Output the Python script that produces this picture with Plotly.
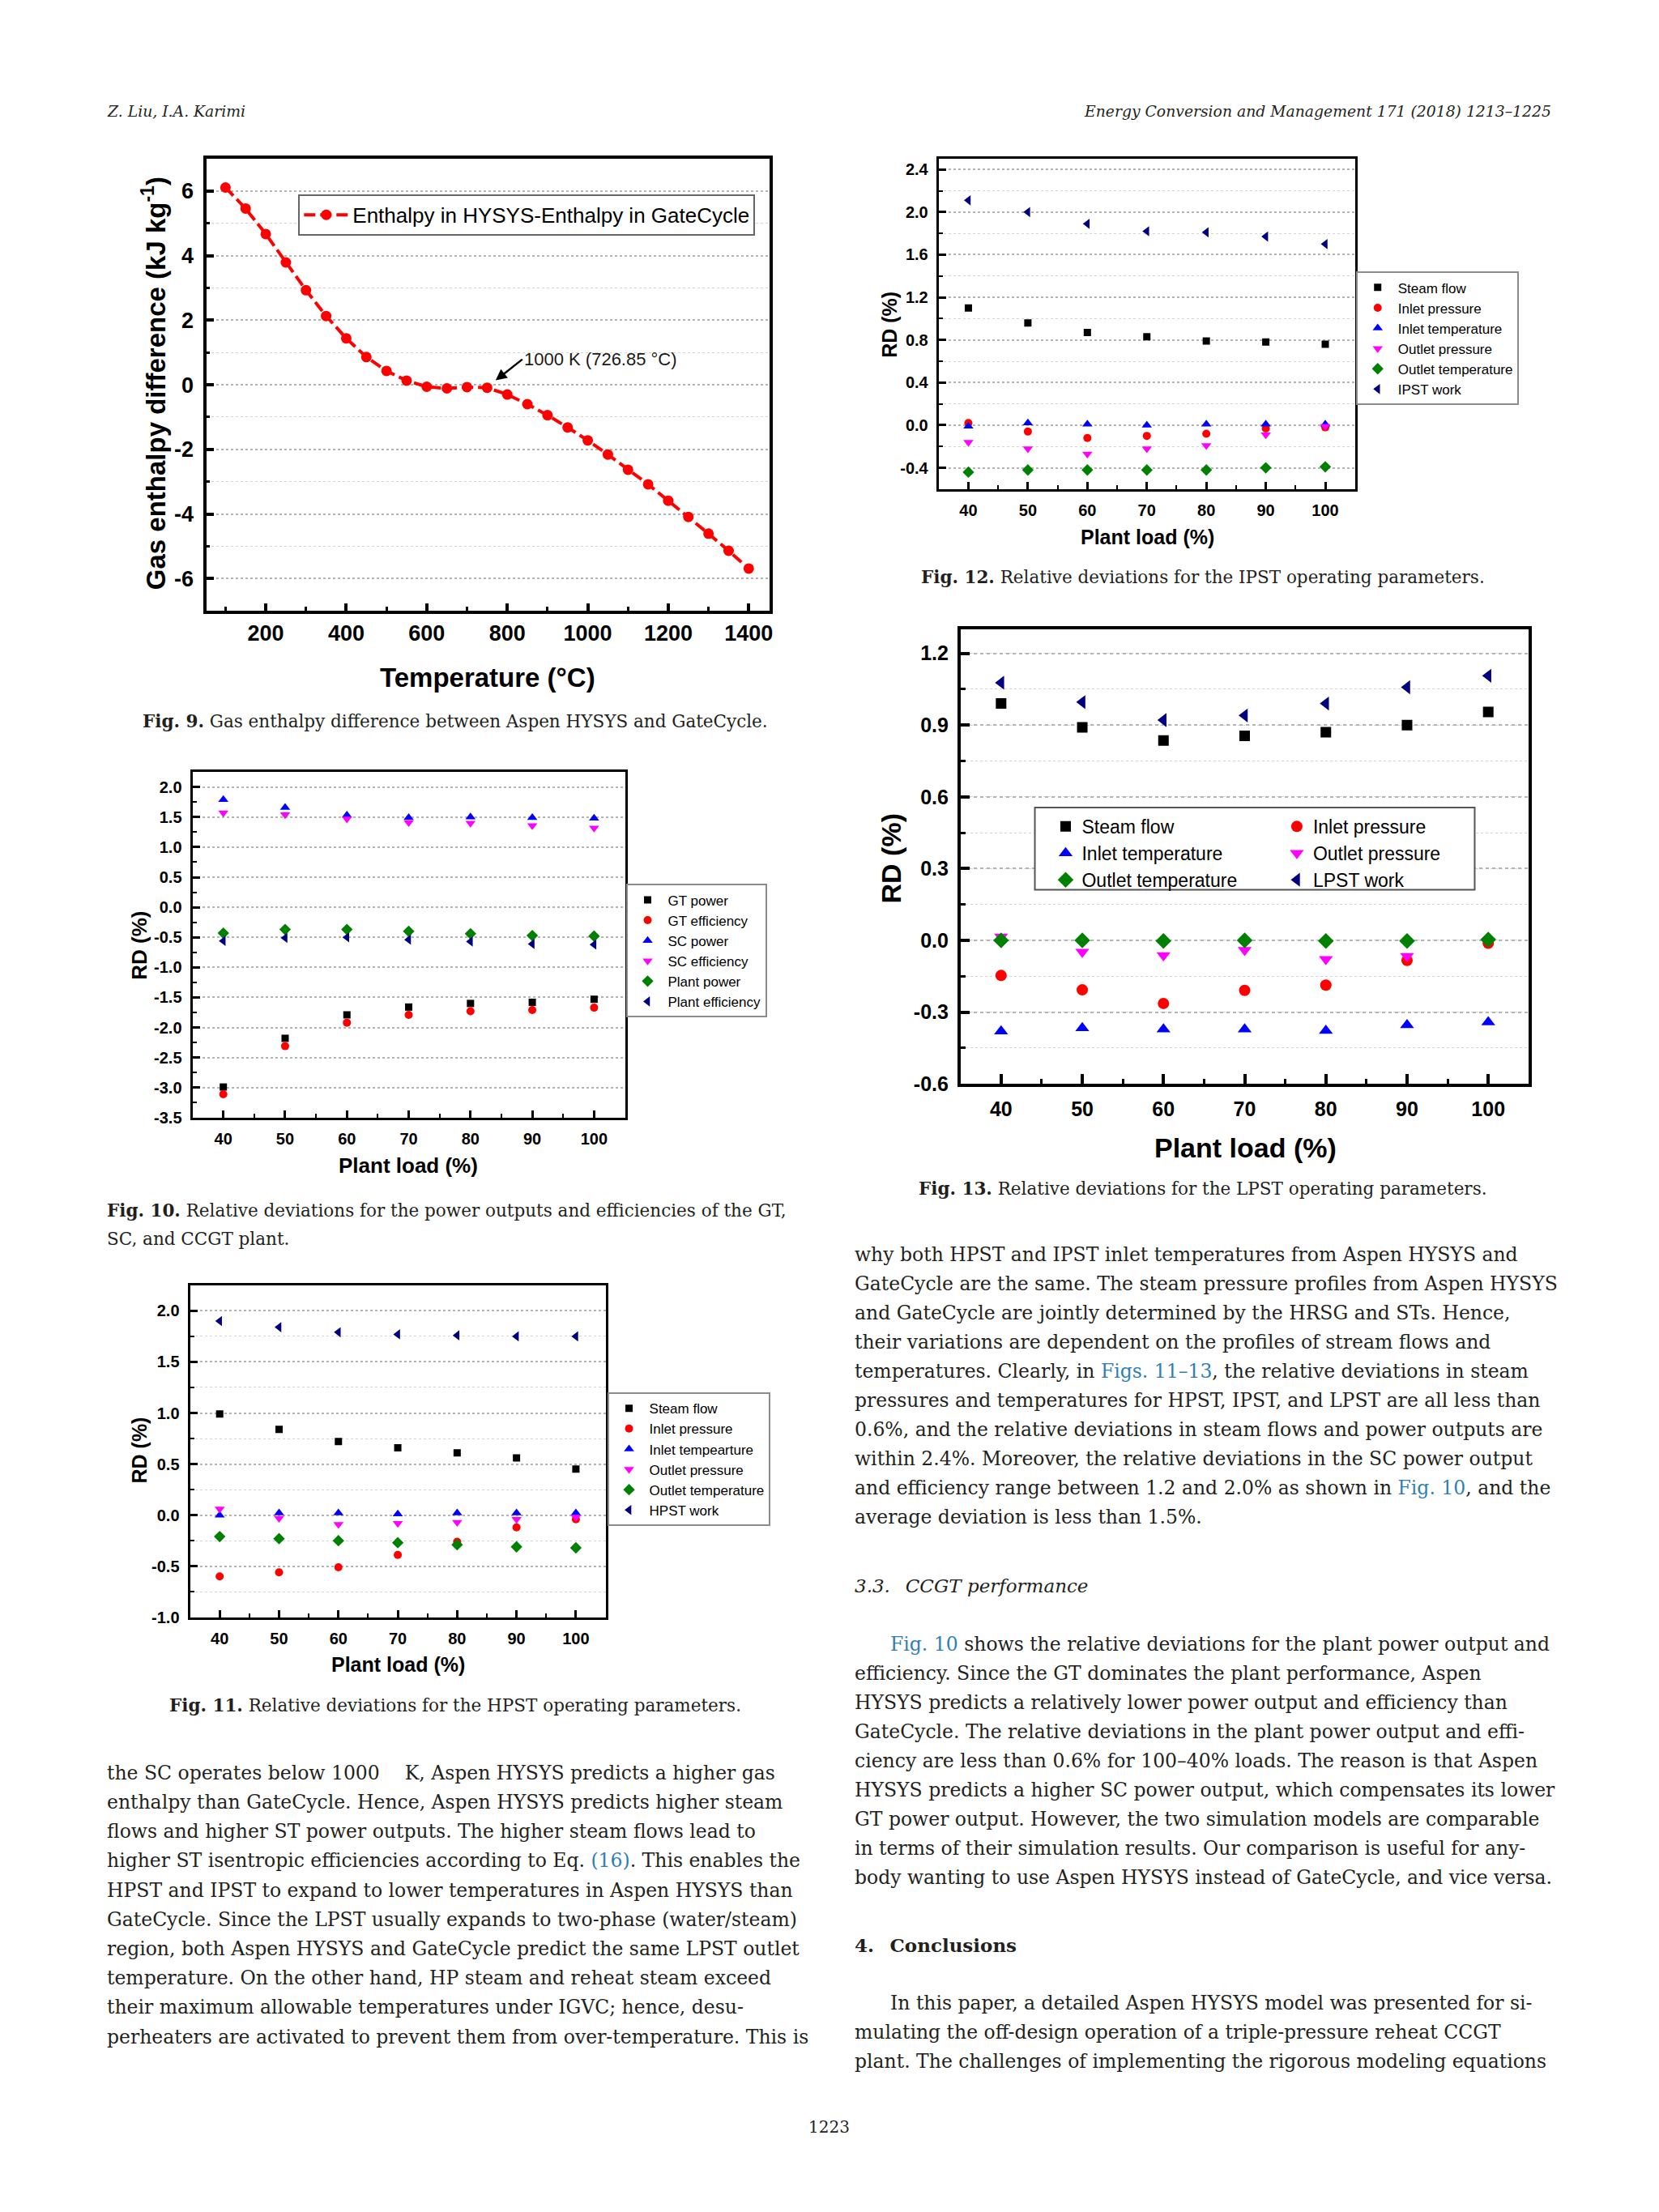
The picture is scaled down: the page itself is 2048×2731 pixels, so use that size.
import plotly.graph_objects as go

W, H = 2048, 2731
PAD = 8  # default body margin of the html page
SANS = "Liberation Sans, Arial, sans-serif"
SERIF = "DejaVu Serif, serif"
TXT = "#231f20"
LINK = "#2f7fb5"

# ---------------- data: Fig. 9 ----------------
temperature = [100, 150, 200, 250, 300, 350, 400, 450, 500, 550, 600, 650, 700, 750,
               800, 850, 900, 950, 1000, 1050, 1100, 1150, 1200, 1250, 1300, 1350, 1400]
enthalpy_diff = [6.11, 5.46, 4.67, 3.79, 2.93, 2.13, 1.44, 0.86, 0.43, 0.13, -0.06, -0.11, -0.07, -0.09,
                 -0.30, -0.60, -0.94, -1.32, -1.72, -2.16, -2.63, -3.08, -3.59, -4.09, -4.61, -5.14, -5.69]
temp_ticks = [200, 400, 600, 800, 1000, 1200, 1400]
temp_tick_text = ["200", "400", "600", "800", "1000", "1200", "1400"]
enth_ticks = [-6, -4, -2, 0, 2, 4, 6]
enth_tick_text = ["-6", "-4", "-2", "0", "2", "4", "6"]

# ---------------- data: plant load figures ----------------
plant_load = [40, 50, 60, 70, 80, 90, 100]
load_tick_text = ["40", "50", "60", "70", "80", "90", "100"]

# Fig. 10 (GT / SC / plant)
gt_power = [-2.99, -2.18, -1.79, -1.66, -1.60, -1.58, -1.53]
gt_eff = [-3.11, -2.31, -1.92, -1.79, -1.73, -1.71, -1.67]
sc_power = [1.79, 1.66, 1.53, 1.49, 1.50, 1.49, 1.48]
sc_eff = [1.57, 1.54, 1.47, 1.41, 1.40, 1.36, 1.32]
plant_power = [-0.43, -0.37, -0.37, -0.40, -0.44, -0.47, -0.48]
plant_eff = [-0.56, -0.51, -0.50, -0.54, -0.57, -0.61, -0.62]
fig10_ticks = [-3.5, -3.0, -2.5, -2.0, -1.5, -1.0, -0.5, 0.0, 0.5, 1.0, 1.5, 2.0]
fig10_tick_text = ["-3.5", "-3.0", "-2.5", "-2.0", "-1.5", "-1.0", "-0.5", "0.0", "0.5", "1.0", "1.5", "2.0"]

# Fig. 11 (HPST)
hp_flow = [0.99, 0.84, 0.72, 0.66, 0.61, 0.56, 0.45]
hp_in_p = [-0.60, -0.56, -0.51, -0.39, -0.26, -0.12, -0.04]
hp_in_t = [0.00, 0.02, 0.02, 0.01, 0.02, 0.02, 0.02]
hp_out_p = [0.06, -0.03, -0.09, -0.08, -0.07, -0.04, -0.02]
hp_out_t = [-0.21, -0.23, -0.25, -0.27, -0.29, -0.31, -0.32]
hp_work = [1.90, 1.84, 1.79, 1.77, 1.76, 1.75, 1.75]
fig11_ticks = [-1.0, -0.5, 0.0, 0.5, 1.0, 1.5, 2.0]
fig11_tick_text = ["-1.0", "-0.5", "0.0", "0.5", "1.0", "1.5", "2.0"]

# Fig. 12 (IPST)
ip_flow = [1.10, 0.96, 0.87, 0.83, 0.79, 0.78, 0.76]
ip_in_p = [0.02, -0.06, -0.12, -0.10, -0.08, -0.03, -0.02]
ip_in_t = [-0.01, 0.02, 0.01, 0.00, 0.01, 0.01, 0.01]
ip_out_p = [-0.16, -0.22, -0.27, -0.22, -0.19, -0.09, -0.01]
ip_out_t = [-0.44, -0.42, -0.42, -0.42, -0.42, -0.40, -0.39]
ip_work = [2.11, 2.00, 1.89, 1.82, 1.81, 1.77, 1.70]
fig12_ticks = [-0.4, 0.0, 0.4, 0.8, 1.2, 1.6, 2.0, 2.4]
fig12_tick_text = ["-0.4", "0.0", "0.4", "0.8", "1.2", "1.6", "2.0", "2.4"]

# Fig. 13 (LPST)
lp_flow = [0.99, 0.89, 0.835, 0.855, 0.87, 0.90, 0.955]
lp_in_p = [-0.147, -0.207, -0.264, -0.209, -0.187, -0.084, -0.012]
lp_in_t = [-0.380, -0.367, -0.372, -0.372, -0.378, -0.354, -0.342]
lp_out_p = [0.015, -0.048, -0.063, -0.041, -0.079, -0.066, -0.003]
lp_out_t = [0.0, 0.0, -0.003, 0.0, -0.003, -0.003, 0.003]
lp_work = [1.077, 0.996, 0.921, 0.940, 0.990, 1.058, 1.106]
fig13_ticks = [-0.6, -0.3, 0.0, 0.3, 0.6, 0.9, 1.2]
fig13_tick_text = ["-0.6", "-0.3", "0.0", "0.3", "0.6", "0.9", "1.2"]

# ---------------- page text ----------------
header_left = "<i>Z. Liu, I.A. Karimi</i>"
header_right = "<i>Energy Conversion and Management 171 (2018) 1213–1225</i>"

left_col = [
    "the SC operates below 1000\u2003 K, Aspen HYSYS predicts a higher gas",
    "enthalpy than GateCycle. Hence, Aspen HYSYS predicts higher steam",
    "flows and higher ST power outputs. The higher steam flows lead to",
    f"higher ST isentropic efficiencies according to Eq. <span style='color:{LINK}'>(16)</span>. This enables the",
    "HPST and IPST to expand to lower temperatures in Aspen HYSYS than",
    "GateCycle. Since the LPST usually expands to two-phase (water/steam)",
    "region, both Aspen HYSYS and GateCycle predict the same LPST outlet",
    "temperature. On the other hand, HP steam and reheat steam exceed",
    "their maximum allowable temperatures under IGVC; hence, desu-",
    "perheaters are activated to prevent them from over-temperature. This is",
]
right_col = [
    "why both HPST and IPST inlet temperatures from Aspen HYSYS and",
    "GateCycle are the same. The steam pressure profiles from Aspen HYSYS",
    "and GateCycle are jointly determined by the HRSG and STs. Hence,",
    "their variations are dependent on the profiles of stream flows and",
    f"temperatures. Clearly, in <span style='color:{LINK}'>Figs. 11–13</span>, the relative deviations in steam",
    "pressures and temperatures for HPST, IPST, and LPST are all less than",
    "0.6%, and the relative deviations in steam flows and power outputs are",
    "within 2.4%. Moreover, the relative deviations in the SC power output",
    f"and efficiency range between 1.2 and 2.0% as shown in <span style='color:{LINK}'>Fig. 10</span>, and the",
    "average deviation is less than 1.5%.",
]
ccgt_para = [
    f"<span style='color:{LINK}'>Fig. 10</span> shows the relative deviations for the plant power output and",
    "efficiency. Since the GT dominates the plant performance, Aspen",
    "HYSYS predicts a relatively lower power output and efficiency than",
    "GateCycle. The relative deviations in the plant power output and effi-",
    "ciency are less than 0.6% for 100–40% loads. The reason is that Aspen",
    "HYSYS predicts a higher SC power output, which compensates its lower",
    "GT power output. However, the two simulation models are comparable",
    "in terms of their simulation results. Our comparison is useful for any-",
    "body wanting to use Aspen HYSYS instead of GateCycle, and vice versa.",
]
concl_para = [
    "In this paper, a detailed Aspen HYSYS model was presented for si-",
    "mulating the off-design operation of a triple-pressure reheat CCGT",
    "plant. The challenges of implementing the rigorous modeling equations",
]

fig = go.Figure()


def px_x(x):
    return (x - PAD) / W


def px_y(y):
    return 1 - (y - PAD) / H


def panel(n, box, xr, yr, xticks, xtext, yticks, ytext, xminor, yminor,
          tsize, lw, tlen, minor_grid=True, gdash="dot", xstand=6):
    x0, y0, x1, y1 = box
    sfx = "" if n == 1 else str(n)
    tickfont = dict(family=SANS, size=tsize, color="black", weight="bold")
    common = dict(showline=True, mirror=True, linecolor="black", linewidth=lw,
                  ticks="inside", ticklen=tlen, tickwidth=lw, tickcolor="black",
                  tickfont=tickfont, zeroline=False, tickmode="array", fixedrange=True)
    xa = dict(common, domain=[px_x(x0), px_x(x1)], range=xr, anchor="y" + sfx,
              tickvals=xticks, ticktext=xtext, showgrid=False, ticklabelstandoff=xstand,
              minor=dict(ticks="inside", ticklen=tlen * 0.55, tickwidth=lw * 0.8,
                         tickcolor="black", dtick=xminor, tick0=0, showgrid=False))
    ya = dict(common, domain=[px_y(y1), px_y(y0)], range=yr, anchor="x" + sfx,
              tickvals=yticks, ticktext=ytext, showgrid=True, gridcolor="#b4b4b4",
              gridwidth=1.5, griddash=gdash, ticklabelstandoff=6,
              minor=dict(ticks="inside", ticklen=tlen * 0.55, tickwidth=lw * 0.8,
                         tickcolor="black", dtick=yminor, tick0=0, showgrid=minor_grid,
                         gridcolor="#d4d4d4", gridwidth=1.3, griddash="dot"))
    fig.update_layout({"xaxis" + sfx: xa, "yaxis" + sfx: ya})
    return "x" + sfx, "y" + sfx


def note(x, y, s, size=23.5, anchor="left", family=SERIF, color=TXT, angle=0):
    fig.add_annotation(x=px_x(x), y=px_y(y), xref="paper", yref="paper", text=s,
                       showarrow=False, xanchor=anchor, yanchor="middle", textangle=angle,
                       font=dict(family=family, size=size, color=color), align="left")


symbols = ["square", "circle", "triangle-up", "triangle-down", "diamond", "triangle-left"]
colors = ["#000000", "#ff0000", "#0000ff", "#ff00ff", "#008000", "#000080"]


def scatter_set(xref, yref, series, names, legends, sizes):
    for ys, name, sym, col, lg, sz in zip(series, names, symbols, colors, legends, sizes):
        fig.add_trace(go.Scatter(x=plant_load, y=ys, mode="markers", name=name,
                                 xaxis=xref, yaxis=yref, legend=lg,
                                 marker=dict(symbol=sym, size=sz, color=col, line=dict(width=0))))


small_sizes = [9, 10, 11, 11, 11, 11]
big_sizes = [13, 14, 15, 15, 15, 15]

# ---------------- Fig. 9 ----------------
xr9, yr9 = panel(1, (255, 197, 952, 758), [52, 1452], [-7, 7], temp_ticks, temp_tick_text,
                 enth_ticks, enth_tick_text, 100, 1, 27, 4, 9, xstand=0)
fig.add_trace(go.Scatter(x=temperature, y=enthalpy_diff, mode="lines+markers",
                         name="Enthalpy in HYSYS-Enthalpy in GateCycle", xaxis=xr9, yaxis=yr9,
                         legend="legend",
                         line=dict(color="#ff0000", width=4, dash="14px,6px"),
                         marker=dict(symbol="circle", size=13, color="#ff0000")))
note(603, 841, "<b>Temperature (°C)</b>", 33, "center", SANS, "black")
note(190, 476, "<b>Gas enthalpy difference (kJ kg<sup>-1</sup>)</b>", 33, "center", SANS, "black", -90)
fig.add_annotation(x=px_x(613), y=px_y(472), xref="paper", yref="paper",
                   text="1000 K (726.85 °C)", showarrow=True, ax=33, ay=-26,
                   xanchor="left", yanchor="middle", arrowhead=2, arrowsize=1.1,
                   arrowwidth=2.5, arrowcolor="black",
                   font=dict(family=SANS, size=22, color="#1a1a1a"))

# ---------------- Fig. 12 (IPST) ----------------
xr12, yr12 = panel(2, (1161, 197, 1676, 607), [35, 105], [-0.6, 2.5], plant_load, load_tick_text,
                   fig12_ticks, fig12_tick_text, 5, 0.2, 20, 3, 9)
scatter_set(xr12, yr12, [ip_flow, ip_in_p, ip_in_t, ip_out_p, ip_out_t, ip_work],
            ["Steam flow", "Inlet pressure", "Inlet temperature", "Outlet pressure",
             "Outlet temperature", "IPST work"], ["legend2"] * 6, small_sizes)
note(1419, 666, "<b>Plant load (%)</b>", 25, "center", SANS, "black")
note(1100, 403, "<b>RD (%)</b>", 25, "center", SANS, "black", -90)

# ---------------- Fig. 10 (GT / SC / plant) ----------------
xr10, yr10 = panel(3, (238, 958, 773, 1387), [35, 105], [-3.5, 2.25], plant_load, load_tick_text,
                   fig10_ticks, fig10_tick_text, 5, 0.25, 20, 3, 9, minor_grid=False)
scatter_set(xr10, yr10, [gt_power, gt_eff, sc_power, sc_eff, plant_power, plant_eff],
            ["GT power", "GT efficiency", "SC power", "SC efficiency", "Plant power",
             "Plant efficiency"], ["legend3"] * 6, small_sizes)
note(505, 1446, "<b>Plant load (%)</b>", 26, "center", SANS, "black")
note(172, 1173, "<b>RD (%)</b>", 26, "center", SANS, "black", -90)

# ---------------- Fig. 11 (HPST) ----------------
xr11, yr11 = panel(4, (235, 1595, 749, 2007), [35, 105], [-1.0, 2.25], plant_load, load_tick_text,
                   fig11_ticks, fig11_tick_text, 5, 0.25, 20, 3, 9)
scatter_set(xr11, yr11, [hp_flow, hp_in_p, hp_in_t, hp_out_p, hp_out_t, hp_work],
            ["Steam flow", "Inlet pressure", "Inlet tempearture", "Outlet pressure",
             "Outlet temperature", "HPST work"], ["legend4"] * 6, small_sizes)
note(492, 2066, "<b>Plant load (%)</b>", 25, "center", SANS, "black")
note(172, 1800, "<b>RD (%)</b>", 25, "center", SANS, "black", -90)

# ---------------- Fig. 13 (LPST) ----------------
xr13, yr13 = panel(5, (1188, 781, 1891, 1345), [35, 105], [-0.6, 1.3], plant_load, load_tick_text,
                   fig13_ticks, fig13_tick_text, 5, 0.15, 25, 3.5, 12, gdash="4px,4px")
scatter_set(xr13, yr13, [lp_flow, lp_in_p, lp_in_t, lp_out_p, lp_out_t, lp_work],
            ["Steam flow", "Inlet pressure", "Inlet temperature", "Outlet pressure",
             "Outlet temperature", "LPST work"],
            ["legend5", "legend6", "legend5", "legend6", "legend5", "legend6"], big_sizes)
note(1540, 1424, "<b>Plant load (%)</b>", 34, "center", SANS, "black")
note(1102, 1065, "<b>RD (%)</b>", 34, "center", SANS, "black", -90)
fig.add_shape(type="rect", xref="paper", yref="paper", x0=px_x(1280), x1=px_x(1824),
              y0=px_y(1104), y1=px_y(1002), line=dict(color="#555555", width=2),
              fillcolor="white", layer="above")


def legend_box(x, y, size, border=True):
    return dict(x=px_x(x), y=px_y(y), xanchor="left", yanchor="top",
                bgcolor="white" if border else "rgba(0,0,0,0)",
                bordercolor="#8c8c8c", borderwidth=2 if border else 0,
                font=dict(family=SANS, size=size, color="black"),
                tracegroupgap=0, itemclick=False, itemdoubleclick=False)


fig.update_layout(
    legend=dict(legend_box(369, 241, 26), itemwidth=55, bordercolor="#666666"),
    legend2=dict(legend_box(1677, 337, 17), itemwidth=40),
    legend3=dict(legend_box(774, 1097, 17), itemwidth=40),
    legend4=dict(legend_box(751, 1728, 17), itemwidth=40),
    legend5=legend_box(1298, 1004, 23, border=False),
    legend6=legend_box(1584, 1004, 23, border=False),
)

# ---------------- page text ----------------
note(130, 138, header_left, 18.8)
note(1921, 138, header_right, 18.8, "right")

note(563, 895, "<b>Fig. 9.</b> Gas enthalpy difference between Aspen HYSYS and GateCycle.", 21.5, "center")
note(1488, 716, "<b>Fig. 12.</b> Relative deviations for the IPST operating parameters.", 21.5, "center")
note(130, 1502, "<b>Fig. 10.</b> Relative deviations for the power outputs and efficiencies of the GT,", 21.5)
note(130, 1537, "SC, and CCGT plant.", 21.5)
note(1488, 1475, "<b>Fig. 13.</b> Relative deviations for the LPST operating parameters.", 21.5, "center")
note(563, 2116, "<b>Fig. 11.</b> Relative deviations for the HPST operating parameters.", 21.5, "center")

for i, line in enumerate(left_col):
    note(130, 2200 + i * 36.4, line)
for i, line in enumerate(right_col):
    note(1055, 1557 + i * 36.2, line)
note(1055, 1968, "<i>3.3.\u2002 CCGT performance</i>", 23)
for i, line in enumerate(ccgt_para):
    note(1099 if i == 0 else 1055, 2040 + i * 36.2, line)
note(1055, 2414, "<b>4.\u2002 Conclusions</b>", 23)
for i, line in enumerate(concl_para):
    note(1099 if i == 0 else 1055, 2486 + i * 36.2, line)
note(1025, 2639, "1223", 20, "center")

fig.update_layout(width=W, height=H, margin=dict(l=0, r=0, t=0, b=0),
                  paper_bgcolor="white", plot_bgcolor="white", showlegend=True)

fig.write_html("out.html")
